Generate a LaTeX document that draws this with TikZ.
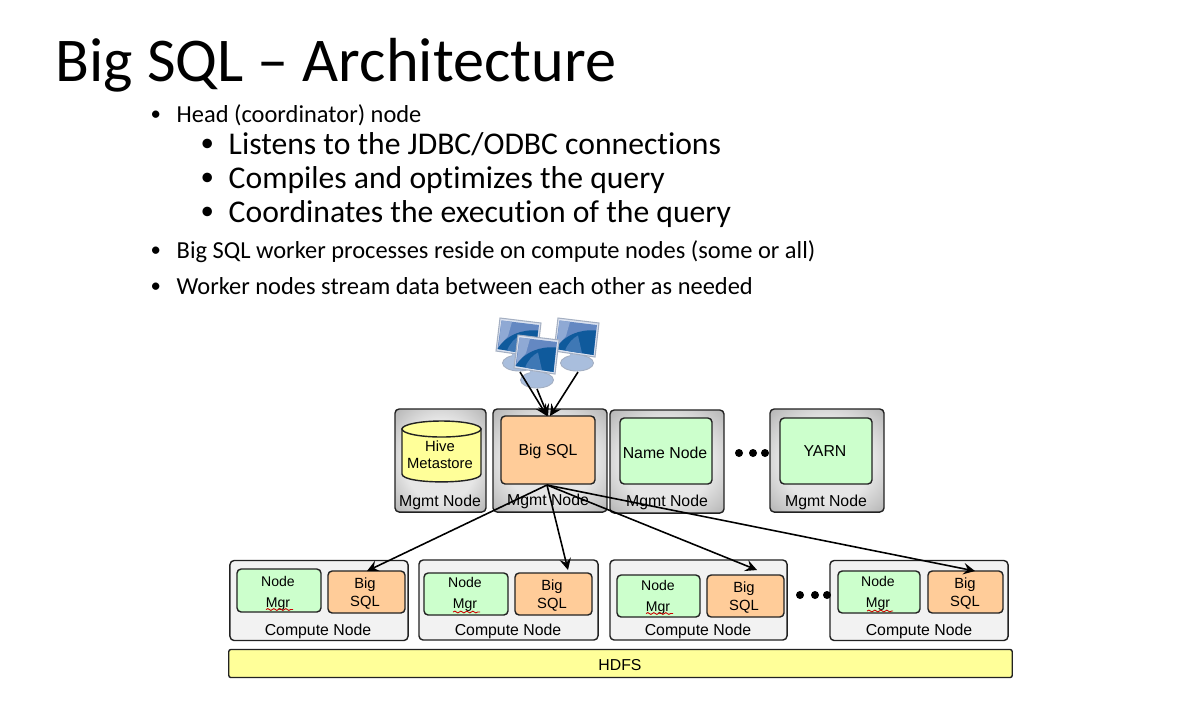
\documentclass[tikz,border=0pt]{standalone}
\usepackage{fontspec}
\setmainfont[Ligatures=NoCommon]{Carlito}
\newfontfamily\arialfont{Liberation Sans}
\usetikzlibrary{decorations.pathmorphing}

\definecolor{nodegreen}{HTML}{CCFFCC}
\definecolor{sqlorange}{HTML}{FFCC99}
\definecolor{hdfsyellow}{HTML}{FFFF99}
\definecolor{computegray}{HTML}{F2F2F2}
\definecolor{edgegray}{HTML}{222222}
\definecolor{screendark}{HTML}{0F5A9C}
\definecolor{screenwedge}{HTML}{3F78B5}
\definecolor{screenmid}{HTML}{6488C2}
\definecolor{screenlight}{HTML}{8FA9D4}
\definecolor{standblue}{HTML}{A9BEDD}
\definecolor{framelight}{HTML}{DCE3F0}
\definecolor{framegray}{HTML}{A4AFC2}
\definecolor{mgmtlight}{HTML}{E6E6E6}
\definecolor{mgmtdark}{HTML}{A6A6A6}

\pgfdeclareradialshading{mgmtshade}{\pgfpoint{0bp}{0bp}}{color(0bp)=(mgmtlight); color(20bp)=(mgmtlight); color(40bp)=(mgmtdark); color(50bp)=(mgmtdark)}

\newcommand{\smallbullet}{\raisebox{0.07em}{\scalebox{0.85}{\textbullet}}}
\newcommand{\itemone}[1]{\makebox[0.26cm][l]{\smallbullet}#1}
\newcommand{\itemtwo}[1]{\makebox[0.28cm][l]{\smallbullet}#1}

\tikzset{
	box/.style={draw=edgegray, line width=0.4pt, rounded corners=1.2pt, inner sep=0pt, outer sep=0pt},
	mgmt/.style={box, minimum width=#1, minimum height=1.03cm, shading=mgmtshade},
	compute/.style={box, fill=computegray, minimum width=#1, minimum height=0.80cm},
	mgrbox/.style={box, fill=nodegreen, minimum width=#1},
	sqlbox/.style={box, fill=sqlorange, minimum width=#1},
	lbl/.style={font=\arialfont\fontsize{4.5}{5.5}\selectfont, inner sep=0pt, align=center},
	lblsmall/.style={font=\arialfont\fontsize{4}{6}\selectfont, inner sep=0pt, align=center},
	lblsql/.style={font=\arialfont\fontsize{4.2}{4.85}\selectfont, inner sep=0pt, align=center},
	dot/.style={circle, fill=black, minimum size=0.08cm, inner sep=0pt},
	wavy/.style={red!80!black, line width=0.25pt, decorate, decoration={snake, amplitude=0.25pt, segment length=1.7pt}},
	link/.style={-stealth, line width=0.45pt},
	txtone/.style={anchor=base west, inner sep=0pt, font=\fontsize{6.95}{8}\selectfont},
	txttwo/.style={anchor=base west, inner sep=0pt, font=\fontsize{9}{11}\selectfont},
	monitor/.pic={
		\fill[standblue, draw=framegray, line width=0.25pt] (19,45) ellipse (16.5 and 8);
		\fill[standblue] (12,36) -- (26,37) -- (25,42) -- (13,41) -- cycle;
		\fill[framelight, draw=framegray, line width=0.3pt] (0,0) -- (41,5) -- (37,39) -- (-4,33) -- cycle;
		\fill[screenmid] (1.5,2.5) -- (39,7) -- (35.5,37) -- (-2.5,31) -- cycle;
		\fill[screenlight] (1.5,2.5) -- (12,3.8) -- (8,18) -- (-1.5,29) -- cycle;
		\fill[screendark] (-2.5,31) .. controls (6,17) and (22,11) .. (38,12.5) -- (35.5,37) -- cycle;
		\fill[screenwedge] (7,32.6) .. controls (10,25) and (15,20) .. (20,17.5) -- (24,35.2) -- cycle;
	},
}

\begin{document}
\begin{tikzpicture}[x=0.01cm, y=-0.01cm]

	\useasboundingbox (0,0) rectangle (1200,705);

	%%% Title
	\node[anchor=base west, inner sep=0pt, font=\fontsize{17.7}{20}\selectfont] (title) at (55,81.5) {Big SQL – Architecture};

	%%% Bullets
	\node[txtone] (head) at (150,122) {\itemone{Head (coordinator) node}};
	\node[txttwo] (listens) at (200,154) {\itemtwo{Listens to the JDBC/ODBC connections}};
	\node[txttwo] (compiles) at (200,188) {\itemtwo{Compiles and optimizes the query}};
	\node[txttwo] (coords) at (200,222) {\itemtwo{Coordinates the execution of the query}};
	\node[txtone] (workers) at (150,258) {\itemone{Big SQL worker processes reside on compute nodes (some or all)}};
	\node[txtone] (stream) at (150,294) {\itemone{Worker nodes stream data between each other as needed}};

	%%% Management row
	\node[mgmt=0.91cm] (mgmt_hive) at (440.5,460.5) {};
	\node[mgmt=1.14cm] (mgmt_sql) at (550,460.5) {};
	\node[mgmt=1.14cm] (mgmt_name) at (667,461.5) {};
	\node[mgmt=1.14cm] (mgmt_yarn) at (827,460.5) {};

	\draw[draw=edgegray, fill=hdfsyellow, line width=0.4pt] (402,429) -- (402,474) .. controls (402,484.5) and (481,484.5) .. (481,474) -- (481,429) -- cycle;
	\draw[draw=edgegray, fill=hdfsyellow, line width=0.4pt] (441.5,429) ellipse (39.5 and 8);
	\node[sqlbox=0.94cm, minimum height=0.68cm] (bigsql) at (548,450) {};
	\node[mgrbox=0.92cm, minimum height=0.66cm] (namenode) at (666,451) {};
	\node[mgrbox=0.92cm, minimum height=0.66cm] (yarn) at (826,451) {};

	\node[lblsql] (hive_lbl) at (440,455) {Hive\\Metastore};
	\node[lbl] (bigsql_lbl) at (548,451) {Big SQL};
	\node[lbl] (namenode_lbl) at (665,453) {Name Node};
	\node[lbl] (yarn_lbl) at (825,451) {YARN};

	\node[lbl] (mgmt_hive_lbl) at (440,502.5) {Mgmt Node};
	\node[lbl] (mgmt_sql_lbl) at (548,501.5) {Mgmt Node};
	\node[lbl] (mgmt_name_lbl) at (667,502.5) {Mgmt Node};
	\node[lbl] (mgmt_yarn_lbl) at (826,502.5) {Mgmt Node};

	\node[dot] (dot_a) at (739,453) {};
	\node[dot] (dot_b) at (753,453) {};
	\node[dot] (dot_c) at (765,453) {};

	%%% Compute row
	\node[compute=1.78cm] (comp_a) at (319,600.5) {};
	\node[compute=1.79cm] (comp_b) at (508.5,600) {};
	\node[compute=1.77cm] (comp_c) at (698.5,600) {};
	\node[compute=1.78cm] (comp_d) at (919,600.5) {};

	\node[mgrbox=0.84cm, minimum height=0.43cm] (mgr_a) at (279,590.5) {};
	\node[sqlbox=0.77cm, minimum height=0.42cm] (sql_a) at (366.5,592) {};
	\node[mgrbox=0.84cm, minimum height=0.42cm] (mgr_b) at (466,594) {};
	\node[sqlbox=0.77cm, minimum height=0.42cm] (sql_b) at (553.5,594) {};
	\node[mgrbox=0.83cm, minimum height=0.42cm] (mgr_c) at (658.5,596) {};
	\node[sqlbox=0.77cm, minimum height=0.42cm] (sql_c) at (745.5,596) {};
	\node[mgrbox=0.82cm, minimum height=0.42cm] (mgr_d) at (879,592) {};
	\node[sqlbox=0.75cm, minimum height=0.42cm] (sql_d) at (965.5,592) {};

	\node[lblsmall] (mgr_a_lbl) at (278,593) {Node\\Mgr};
	\node[lblsql] (sql_a_lbl) at (365,593.5) {Big\\SQL};
	\node[lblsmall] (mgr_b_lbl) at (465,594.5) {Node\\Mgr};
	\node[lblsql] (sql_b_lbl) at (552,595.5) {Big\\SQL};
	\node[lblsmall] (mgr_c_lbl) at (658,597) {Node\\Mgr};
	\node[lblsql] (sql_c_lbl) at (744,597.5) {Big\\SQL};
	\node[lblsmall] (mgr_d_lbl) at (878,593.5) {Node\\Mgr};
	\node[lblsql] (sql_d_lbl) at (965,593.5) {Big\\SQL};

	\draw[wavy] (266,609.5) -- (293,609.5);
	\draw[wavy] (453,612) -- (480,612);
	\draw[wavy] (646,613.5) -- (673,613.5);
	\draw[wavy] (867,611) -- (893,611);

	\node[lbl] (comp_a_lbl) at (318,631) {Compute Node};
	\node[lbl] (comp_b_lbl) at (508,631) {Compute Node};
	\node[lbl] (comp_c_lbl) at (698,631) {Compute Node};
	\node[lbl] (comp_d_lbl) at (919,631) {Compute Node};

	\node[dot] (dot_d) at (800,595) {};
	\node[dot] (dot_e) at (815,595) {};
	\node[dot] (dot_f) at (827,595) {};

	%%% HDFS
	\node[box, rounded corners=0.6pt, fill=hdfsyellow, minimum width=7.83cm, minimum height=0.28cm] (hdfs) at (620.5,663.5) {};
	\node[lbl] (hdfs_lbl) at (620,665.5) {HDFS};

	%%% Clients
	\pic at (500,318) {monitor};
	\pic at (558,318) {monitor};
	\pic at (518,335) {monitor};

	\coordinate (client_a) at (520,372);
	\coordinate (client_b) at (537,389);
	\coordinate (client_c) at (578,372);
	\coordinate (in_a) at (547,416);
	\coordinate (in_b) at (548,416);
	\coordinate (in_c) at (550,416);
	\draw[link] (client_a) -- (in_a);
	\draw[link] (client_b) -- (in_b);
	\draw[link] (client_c) -- (in_c);

	%%% Links to the workers
	\coordinate (out_sql) at (547,485);
	\coordinate (top_a) at (367,571);
	\coordinate (top_b) at (568,570);
	\coordinate (top_c) at (757,570);
	\coordinate (top_d) at (975,571);
	\draw[link] (out_sql) -- (top_a);
	\draw[link] (out_sql) -- (top_b);
	\draw[link] (out_sql) -- (top_c);
	\draw[link] (out_sql) -- (top_d);

\end{tikzpicture}
\end{document}
